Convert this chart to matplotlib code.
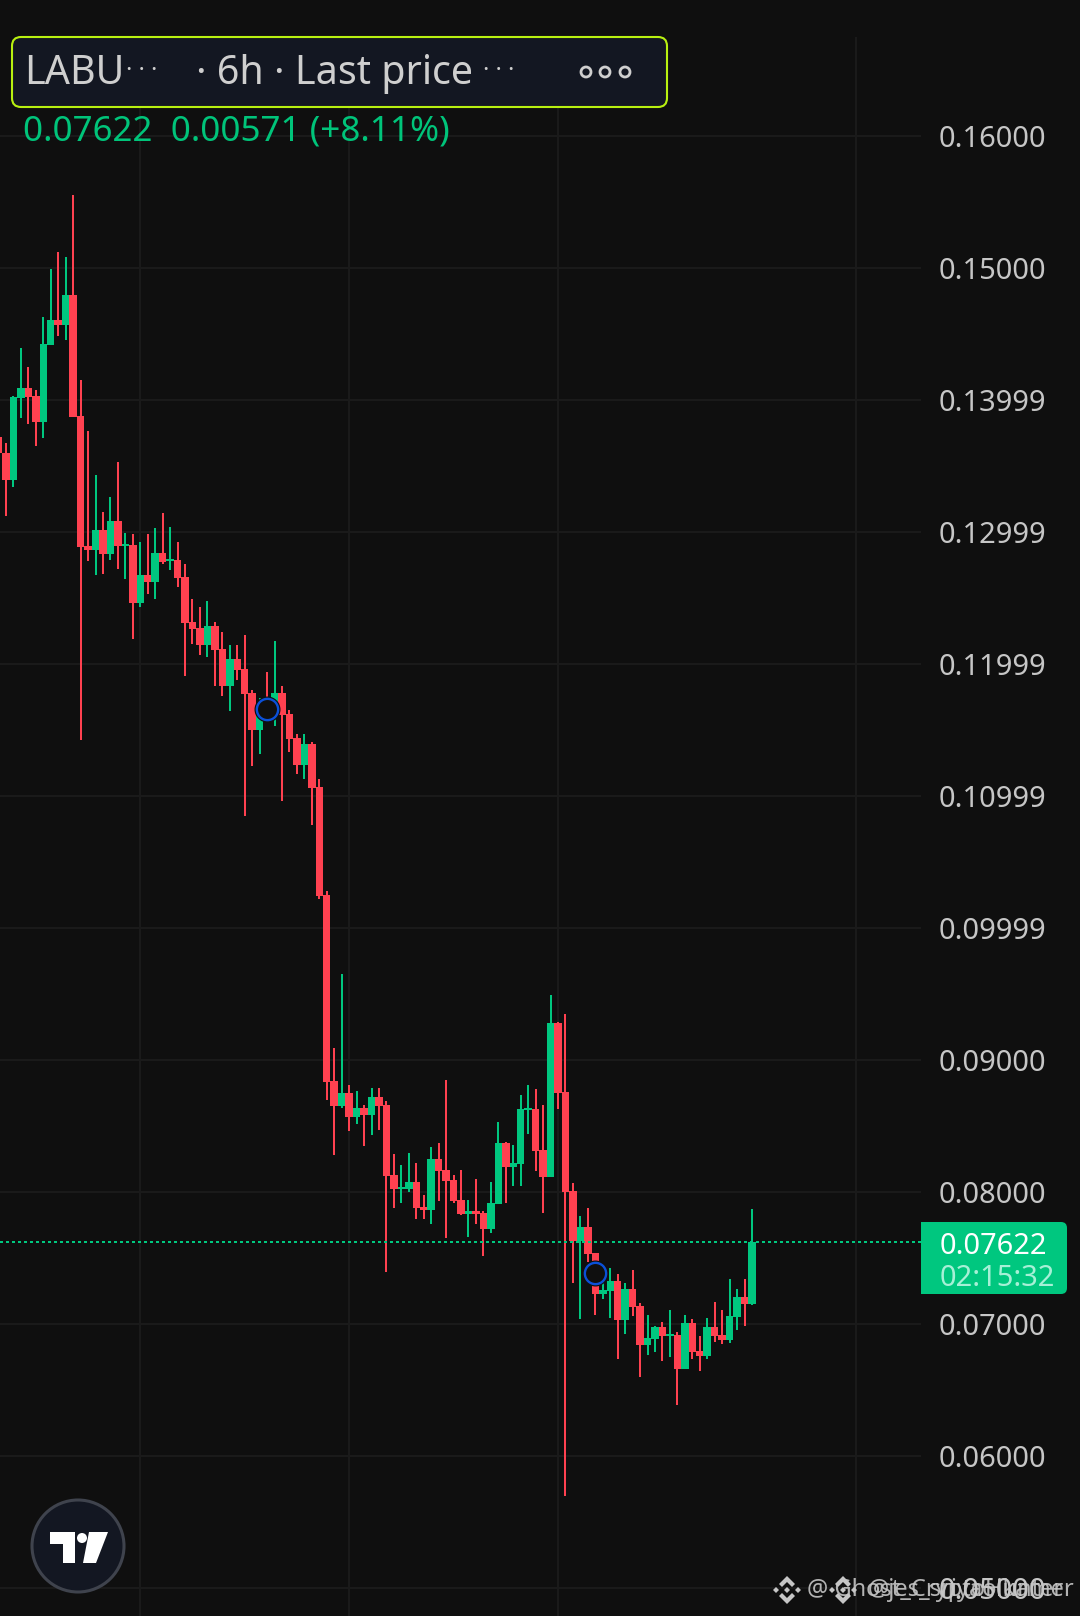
import matplotlib
matplotlib.use('Agg')
import matplotlib.pyplot as plt
from matplotlib.patches import Circle, FancyBboxPatch, Polygon, Rectangle

plt.rcParams['font.family'] = ['Noto Sans', 'DejaVu Sans']

# 6h candles
opens = [0.13718, 0.13596, 0.13392, 0.14013, 0.14089, 0.14028, 0.13831, 0.14414, 0.14603, 0.14566,
         0.14793, 0.13877, 0.12891, 0.12861, 0.13013, 0.12831, 0.13081, 0.12891, 0.12899, 0.12460,
         0.12672, 0.12619, 0.12839, 0.12778, 0.12786, 0.12657, 0.12316, 0.12271, 0.12142, 0.12286,
         0.12112, 0.11831, 0.12036, 0.11960, 0.11778, 0.11498, 0.11725, 0.11611, 0.11778, 0.11619,
         0.11437, 0.11232, 0.11392, 0.11066, 0.10248, 0.08838, 0.08650, 0.08747, 0.08567, 0.08635,
         0.08581, 0.08718, 0.08657, 0.08126, 0.08020, 0.08020, 0.08073, 0.07884, 0.07861, 0.08248,
         0.08164, 0.08089, 0.07937, 0.07831, 0.07854, 0.07838, 0.07717, 0.07907, 0.08369, 0.08187,
         0.08210, 0.08620, 0.08627, 0.08316, 0.08111, 0.09278, 0.08755, 0.08005, 0.07626, 0.07733,
         0.07535, 0.07225, 0.07248, 0.07323, 0.07028, 0.07263, 0.07134, 0.06839, 0.06884, 0.06975,
         0.06907, 0.06914, 0.06657, 0.07005, 0.06793, 0.06755, 0.06975, 0.06914, 0.06877, 0.07051,
         0.07202, 0.07149]
closes = [0.13596, 0.13392, 0.14021, 0.14089, 0.14021, 0.13831, 0.14422, 0.14603, 0.14566, 0.14793,
          0.13869, 0.12884, 0.12861, 0.13013, 0.12831, 0.13081, 0.12891, 0.12907, 0.12460, 0.12672,
          0.12619, 0.12839, 0.12770, 0.12793, 0.12649, 0.12308, 0.12263, 0.12142, 0.12286, 0.12104,
          0.11831, 0.12036, 0.11952, 0.11770, 0.11498, 0.11634, 0.11634, 0.11778, 0.11611, 0.11430,
          0.11232, 0.11392, 0.11058, 0.10241, 0.08831, 0.08650, 0.08747, 0.08567, 0.08635, 0.08581,
          0.08718, 0.08650, 0.08119, 0.08020, 0.08035, 0.08073, 0.07876, 0.07861, 0.08248, 0.08157,
          0.08081, 0.07929, 0.07831, 0.07854, 0.07831, 0.07717, 0.07914, 0.08369, 0.08187, 0.08217,
          0.08627, 0.08635, 0.08308, 0.08111, 0.09278, 0.08747, 0.07998, 0.07626, 0.07733, 0.07528,
          0.07225, 0.07255, 0.07323, 0.07028, 0.07263, 0.07126, 0.06839, 0.06892, 0.06975, 0.06907,
          0.06922, 0.06657, 0.07005, 0.06786, 0.06755, 0.06975, 0.06907, 0.06877, 0.07058, 0.07202,
          0.07149, 0.07622]
highs = [0.13718, 0.13672, 0.14028, 0.14392, 0.14247, 0.14074, 0.14626, 0.14990, 0.15119, 0.15081,
         0.15551, 0.14150, 0.13763, 0.13429, 0.13149, 0.13263, 0.13528, 0.12990, 0.12982, 0.12922,
         0.12982, 0.13028, 0.13142, 0.13036, 0.12922, 0.12755, 0.12491, 0.12430, 0.12475, 0.12316,
         0.12240, 0.12142, 0.12142, 0.12218, 0.11801, 0.11740, 0.11937, 0.12172, 0.11831, 0.11649,
         0.11467, 0.11467, 0.11407, 0.11127, 0.10279, 0.09088, 0.09649, 0.08809, 0.08763, 0.08657,
         0.08786, 0.08786, 0.08687, 0.08286, 0.08202, 0.08293, 0.08217, 0.07975, 0.08339, 0.08369,
         0.08846, 0.08126, 0.08164, 0.07937, 0.08096, 0.07854, 0.08073, 0.08528, 0.08376, 0.08354,
         0.08733, 0.08809, 0.08778, 0.08657, 0.09490, 0.09285, 0.09346, 0.08066, 0.07816, 0.07876,
         0.07535, 0.07308, 0.07421, 0.07376, 0.07308, 0.07406, 0.07156, 0.07066, 0.06982, 0.07013,
         0.07103, 0.06937, 0.07066, 0.07036, 0.06907, 0.07043, 0.07164, 0.07103, 0.07339, 0.07263,
         0.07339, 0.07869]
lows = [0.13596, 0.13119, 0.13339, 0.13862, 0.13816, 0.13650, 0.13710, 0.14414, 0.14482, 0.14452,
        0.13869, 0.11422, 0.12777, 0.12672, 0.12680, 0.12786, 0.12717, 0.12641, 0.12188, 0.12430,
        0.12528, 0.12491, 0.12755, 0.12710, 0.12581, 0.11907, 0.12149, 0.12066, 0.12051, 0.11831,
        0.11755, 0.11642, 0.11876, 0.10846, 0.11225, 0.11316, 0.11604, 0.11528, 0.10960, 0.11331,
        0.11164, 0.11127, 0.10778, 0.10218, 0.08695, 0.08278, 0.08635, 0.08460, 0.08513, 0.08346,
        0.08430, 0.08468, 0.07391, 0.07876, 0.07914, 0.07998, 0.07793, 0.07793, 0.07755, 0.07929,
        0.07649, 0.07914, 0.07823, 0.07657, 0.07755, 0.07513, 0.07687, 0.07907, 0.07914, 0.08043,
        0.08043, 0.08437, 0.08157, 0.07839, 0.08111, 0.08627, 0.05694, 0.07308, 0.07036, 0.07467,
        0.07066, 0.07187, 0.07043, 0.06732, 0.06922, 0.07058, 0.06596, 0.06763, 0.06786, 0.06717,
        0.06748, 0.06384, 0.06657, 0.06732, 0.06642, 0.06732, 0.06861, 0.06846, 0.06854, 0.06952,
        0.06982, 0.07141]

price_ticks = [0.16, 0.15, 0.14, 0.13, 0.12, 0.11, 0.10, 0.09, 0.08, 0.07, 0.06, 0.05]
price_labels = ['0.16000', '0.15000', '0.13999', '0.12999', '0.11999', '0.10999',
                '0.09999', '0.09000', '0.08000', '0.07000', '0.06000', '0.05000']
time_ticks = [19, 47, 75, 115]
last_price = 0.07622
event_bars = [36, 80]
event_prices = [0.11657, 0.07384]

bg = '#0f0f0f'
grid_c = '#1a1a1a'
green = '#00c77f'
red = '#ff4150'
label_c = '#c6c6c6'

W, H = 1080, 1616
fig = plt.figure(figsize=(W / 100, H / 100), dpi=100, facecolor=bg)
ax = fig.add_axes([0, 0, 921 / W, 1], facecolor=bg)

bars = range(len(opens))
colors = [green if c >= o else red for o, c in zip(opens, closes)]
ax.vlines(bars, lows, highs, colors=colors, lw=1.44, zorder=3)
ax.bar(bars, [abs(c - o) for o, c in zip(opens, closes)], bottom=[min(o, c) for o, c in zip(opens, closes)],
       width=1.0, color=colors, linewidth=0, zorder=4)

ax.set_xlim(0.196, 123.66)
ax.set_ylim(0.17028 - H / 13200, 0.17028)
for t in time_ticks:
    ax.axvline(t, ymax=1 - 38 / H, color=grid_c, lw=1.44, zorder=1)
for p in price_ticks:
    ax.axhline(p, color=grid_c, lw=1.44, zorder=1)
ax.axhline(last_price, color=green, lw=1.44, linestyle=(0, (1.5, 1.5)), zorder=5)

# the two round event markers
ax.scatter(event_bars, event_prices, s=350, color=bg, linewidths=0, zorder=6)
ax.scatter(event_bars, event_prices, s=235, facecolor=bg, edgecolor='#0b50d8', linewidths=1.7, zorder=7)

ax.yaxis.tick_right()
ax.set_yticks(price_ticks)
ax.set_yticklabels(price_labels, fontsize=20.9, color=label_c)
ax.tick_params(axis='y', length=0, pad=13)
ax.set_xticks([])
for s in ax.spines.values():
    s.set_visible(False)

# everything around the chart is placed in pixels on a second layer
ui = fig.add_axes([0, 0, 1, 1], zorder=10)
ui.set_xlim(0, W)
ui.set_ylim(H, 0)
ui.axis('off')

ui.add_patch(FancyBboxPatch((12, 37), 655, 70, boxstyle='round,pad=0,rounding_size=9',
                            fc='#131722', ec='#b8f010', lw=1.5))
head = '#cfcfcf'
ui.text(24, 74, 'LABU', fontsize=28.4, color=head, va='center')
ui.text(126, 71, '· · ·', fontsize=17, color=head, va='center')
ui.text(196, 74, '· 6h · Last price', fontsize=28.4, color=head, va='center')
ui.text(483, 71, '· · ·', fontsize=17, color=head, va='center')
for cx in (586, 605, 625):
    ui.add_patch(Circle((cx, 72), 5, fc='none', ec=head, lw=2))
ui.text(23, 132, '0.07622  0.00571 (+8.11%)', fontsize=25.2, color='#00c47a', va='center')

# last price tag
ui.add_patch(FancyBboxPatch((921, 1222), 146, 72, boxstyle='round,pad=0,rounding_size=6', fc=green, ec='none'))
ui.add_patch(Rectangle((921, 1222), 20, 72, fc=green, ec='none'))
ui.text(940, 1247, '0.07622', fontsize=20.9, color='white', va='center')
ui.text(940, 1278, '02:15:32', fontsize=20.9, color='#a6f0d6', va='center')

# TradingView badge
ui.add_patch(Circle((78, 1546), 46, fc='#131722', ec='#3f434d', lw=2.2))
ui.add_patch(Polygon([(50, 1532), (75, 1532), (75, 1563), (63, 1563), (63, 1544), (50, 1544)], fc='white', ec='none'))
ui.add_patch(Circle((82, 1538), 5, fc='white', ec='none'))
ui.add_patch(Polygon([(89, 1532), (108, 1532), (96, 1563), (83, 1563)], fc='white', ec='none'))

# watermark, two overlapping copies
for ox in (0, 56):
    cx, cy = 787 + ox, 1590
    for dx, dy in ((-11, 0), (11, 0), (0, 0)):
        ui.add_patch(Polygon([(cx + dx, cy + dy - 3), (cx + dx + 3, cy + dy), (cx + dx, cy + dy + 3), (cx + dx - 3, cy + dy)],
                             fc=label_c, ec='none'))
    ui.add_patch(Polygon([(cx, cy - 14), (cx + 8, cy - 6), (cx + 5, cy - 3), (cx, cy - 8), (cx - 5, cy - 3), (cx - 8, cy - 6)], fc=label_c, ec='none'))
    ui.add_patch(Polygon([(cx, cy + 14), (cx + 8, cy + 6), (cx + 5, cy + 3), (cx, cy + 8), (cx - 5, cy + 3), (cx - 8, cy + 6)], fc=label_c, ec='none'))
ui.text(807, 1590, '@ Ghost_CryptoHunter', fontsize=17, color=label_c, va='center', alpha=0.9)
ui.text(868, 1590, '@jes_sriyaolkamer', fontsize=17, color=label_c, va='center', alpha=0.9)

fig.savefig('out.png', dpi=100, facecolor=bg)
